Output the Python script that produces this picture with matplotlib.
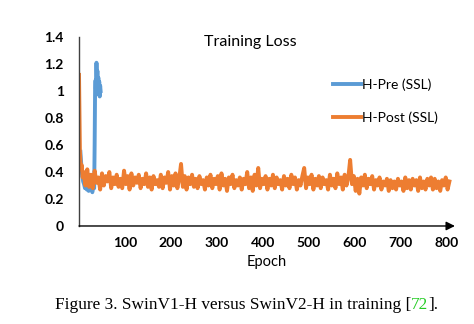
import numpy as np
import matplotlib
matplotlib.use("Agg")
from matplotlib import pyplot as plt
from matplotlib.lines import Line2D

# H-Pre (SSL): short run, diverges after ~35 epochs
pre_epochs = [3, 5, 7, 9, 11, 13, 15, 17, 19, 21, 23, 25, 27, 29, 31, 33,
              34, 35, 36, 37, 38, 39, 40, 41, 42, 43, 44, 45, 46, 47]
pre_loss = [0.55, 0.45, 0.38, 0.33, 0.31, 0.28, 0.30, 0.27, 0.29, 0.26,
            0.28, 0.30, 0.27, 0.25, 0.29, 0.28, 0.60, 1.02, 1.08, 1.00,
            1.21, 1.05, 1.15, 0.98, 1.10, 1.02, 1.07, 0.96, 1.04, 1.00]

# H-Post (SSL): warm-up drop, then every 4 epochs up to 806
post_start_epochs = [0, 1, 2, 3, 4, 6, 8]
post_start_loss = [1.12, 0.85, 0.55, 0.48, 0.42, 0.45, 0.36]
post_loss = [
    0.40, 0.30, 0.42, 0.29, 0.38, 0.28, 0.41, 0.32, 0.36, 0.27,
    0.39, 0.30, 0.37, 0.33, 0.40, 0.28, 0.36, 0.31, 0.38, 0.29,
    0.35, 0.28, 0.41, 0.31, 0.37, 0.27, 0.39, 0.30, 0.36, 0.32,
    0.38, 0.28, 0.35, 0.31, 0.39, 0.29, 0.36, 0.27, 0.37, 0.31,
    0.34, 0.29, 0.38, 0.28, 0.36, 0.32, 0.40, 0.27, 0.37, 0.30,
    0.39, 0.28, 0.35, 0.46, 0.29, 0.37, 0.27, 0.36, 0.31, 0.38,
    0.29, 0.35, 0.28, 0.37, 0.31, 0.34, 0.27, 0.36, 0.30, 0.38,
    0.28, 0.35, 0.31, 0.37, 0.27, 0.39, 0.30, 0.35, 0.26, 0.36,
    0.31, 0.38, 0.28, 0.34, 0.30, 0.36, 0.27, 0.35, 0.31, 0.40,
    0.28, 0.36, 0.26, 0.38, 0.30, 0.43, 0.28, 0.35, 0.31, 0.37,
    0.27, 0.35, 0.30, 0.38, 0.28, 0.36, 0.31, 0.34, 0.27, 0.37,
    0.30, 0.35, 0.28, 0.38, 0.31, 0.36, 0.27, 0.34, 0.30, 0.37,
    0.43, 0.28, 0.36, 0.31, 0.38, 0.27, 0.35, 0.30, 0.37, 0.28,
    0.36, 0.31, 0.34, 0.27, 0.38, 0.30, 0.35, 0.28, 0.39, 0.31,
    0.36, 0.27, 0.38, 0.30, 0.36, 0.49, 0.31, 0.37, 0.26, 0.35,
    0.24, 0.36, 0.30, 0.38, 0.28, 0.35, 0.31, 0.37, 0.27, 0.34,
    0.30, 0.36, 0.27, 0.33, 0.30, 0.35, 0.26, 0.34, 0.28, 0.33,
    0.27, 0.35, 0.30, 0.33, 0.26, 0.36, 0.28, 0.34, 0.27, 0.35,
    0.30, 0.34, 0.26, 0.36, 0.28, 0.33, 0.27, 0.35, 0.30, 0.36,
    0.27, 0.35, 0.28, 0.33, 0.26, 0.34, 0.30, 0.36, 0.27, 0.33,
]
post_epochs = list(post_start_epochs) + list(range(10, 10 + 4 * len(post_loss), 4))
post_all = list(post_start_loss) + post_loss

x_ticks = [100, 200, 300, 400, 500, 600, 700, 800]
y_ticks = [0, 0.2, 0.4, 0.6, 0.8, 1.0, 1.2, 1.4]
y_ticklabels = ["0", "0.2", "0.4", "0.6", "0.8", "1", "1.2", "1.4"]

BLUE = "#5b9bd5"
ORANGE = "#ed7d31"

plt.rcParams["font.family"] = ["Lato", "DejaVu Sans"]

fig = plt.figure(figsize=(4.74, 3.24), dpi=100)
ax = fig.add_axes([0.1667, 0.3025, 0.795, 0.583])

ax.plot(pre_epochs, pre_loss, color=BLUE, lw=2.8, solid_joinstyle="round")
ax.plot(post_epochs, post_all, color=ORANGE, lw=2.8, solid_joinstyle="round")

ax.set_xlim(0, 820)
ax.set_ylim(0, 1.4)
ax.set_xticks(x_ticks)
ax.set_xticklabels([str(t) for t in x_ticks], fontweight="bold", fontsize=10)
ax.set_yticks(y_ticks)
ax.set_yticklabels(y_ticklabels, fontweight="bold", fontsize=10)
ax.tick_params(axis="both", length=0)
ax.tick_params(axis="x", pad=8)
ax.tick_params(axis="y", pad=11)

for side in ["top", "right", "bottom"]:
    ax.spines[side].set_visible(False)
ax.spines["left"].set_color("#404040")
ax.spines["left"].set_linewidth(1.0)

# x axis drawn as an arrow
ax.annotate("", xy=(818, 0), xytext=(0, 0), xycoords="data",
            arrowprops=dict(arrowstyle="-|>", color="black", lw=1.0,
                            mutation_scale=13, shrinkA=0, shrinkB=0),
            annotation_clip=False)

fig.text(0.563, 0.191, "Epoch", ha="center", va="center", fontsize=10.5)
fig.text(0.529, 0.870, "Training Loss", ha="center", va="center", fontsize=11.5)

handles = [Line2D([], [], color=BLUE, lw=2.8),
           Line2D([], [], color=ORANGE, lw=2.8)]
ax.legend(handles, ["H-Pre (SSL)", "H-Post (SSL)"], loc="upper left",
          bbox_to_anchor=(0.702, 0.757), bbox_transform=fig.transFigure,
          frameon=False, fontsize=10, handlelength=2.0, handletextpad=0.12,
          labelspacing=1.45, borderpad=0, borderaxespad=0)

# caption with green citation number
cap = fig.text(0.116, 0.058, "Figure 3. SwinV1-H versus SwinV2-H in training [",
               ha="left", va="center", fontsize=12.4, family="Liberation Serif")
num = ax.annotate("72", xy=(1, 0), xycoords=cap, ha="left", va="bottom",
                  fontsize=12.4, family="Liberation Serif", color="#22cc22")
ax.annotate("].", xy=(1, 0), xycoords=num, ha="left", va="bottom",
            fontsize=12.4, family="Liberation Serif")

fig.savefig("out.png", dpi=100)
